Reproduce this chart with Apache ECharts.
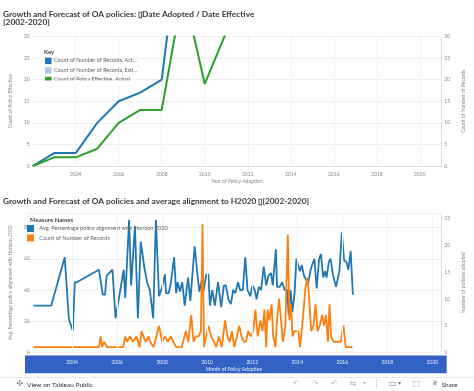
<!DOCTYPE html>
<html><head><meta charset="utf-8">
<script src="https://cdn.jsdelivr.net/npm/echarts@6/dist/echarts.min.js"></script>
<style>html,body{margin:0;padding:0;background:#fff}#c{width:474px;height:391px}</style>
</head><body><div id="c"></div>
<script>
// ---- Top chart data (yearly) ----
const topYears = [2002, 2003, 2004, 2005, 2006, 2007, 2008, 2009, 2010, 2011];
const recordsActual = [0, 3, 3, 10, 15, 17, 20, 60];
const policyEffectiveActual = [0, 2, 2, 4, 10, 13, 13, 41, 19, 31];
const yearTickLabels = [2004, 2006, 2008, 2010, 2012, 2014, 2016, 2018, 2020];
const topYTicks = [0, 5, 10, 15, 20, 25, 30];

// ---- Bottom chart data (monthly, decimal years) ----
const alignX = [2002.28, 2003.07, 2003.67, 2003.86, 2004.03, 2004.12, 2004.21, 2005.19, 2005.36, 2005.46,
  2005.53, 2005.79, 2005.93, 2006.29, 2006.36, 2006.43, 2006.53, 2006.62, 2006.79, 2006.92,
  2007.05, 2007.2, 2007.33, 2007.45, 2007.6, 2007.72, 2007.86, 2008.0, 2008.12, 2008.17,
  2008.29, 2008.39, 2008.53, 2008.62, 2008.69, 2008.79, 2008.89, 2009.0, 2009.15, 2009.25,
  2009.44, 2009.58, 2009.65, 2009.75, 2009.83, 2009.96, 2010.05, 2010.12, 2010.22, 2010.34,
  2010.48, 2010.56, 2010.62, 2010.74, 2010.83, 2010.94, 2011.05, 2011.15, 2011.25, 2011.37,
  2011.46, 2011.58, 2011.69, 2011.79, 2011.91, 2012.01, 2012.11, 2012.19, 2012.29, 2012.39,
  2012.51, 2012.62, 2012.72, 2012.83, 2012.91, 2013.05, 2013.1, 2013.22, 2013.33, 2013.44,
  2013.55, 2013.62, 2013.7, 2013.78, 2013.88, 2013.96, 2014.04, 2014.12, 2014.2, 2014.3,
  2014.37, 2014.48, 2014.58, 2014.68, 2014.76, 2014.86, 2014.97, 2015.05, 2015.15, 2015.23,
  2015.3, 2015.4, 2015.48, 2015.58, 2015.72, 2015.87, 2015.98, 2016.08, 2016.18, 2016.27,
  2016.37, 2016.47];
const alignPct = [30, 30, 61, 21, 14, 45, 45, 53, 37, 37,
  49, 53, 22, 53, 35, 36, 85, 43, 81, 22,
  71, 55, 45, 40, 22, 85, 36, 42, 50, 38,
  38, 45, 61, 38, 45, 39, 45, 30, 48, 33,
  68, 48, 39, 46, 39, 50, 50, 30, 40, 30,
  45, 45, 29, 43, 43, 34, 31, 40, 38, 45,
  40, 40, 61, 40, 36, 43, 40, 34, 42, 40,
  55, 43, 49, 51, 43, 66, 42, 42, 45, 40,
  40, 24, 40, 26, 38, 60, 61, 52, 56, 49,
  49, 44, 52, 57, 60, 41, 60, 63, 48, 52,
  48, 58, 60, 50, 42, 52, 77, 59, 58, 53,
  65, 37];
const recordsX = [2002.28, 2005.19, 2005.27, 2005.33, 2005.42, 2005.55, 2006.27, 2006.36, 2006.44, 2006.57,
  2006.7, 2006.86, 2007.0, 2007.08, 2007.26, 2007.4, 2007.47, 2007.62, 2007.86, 2008.0,
  2008.12, 2008.25, 2008.38, 2008.5, 2008.62, 2008.75, 2008.87, 2009.05, 2009.16, 2009.29,
  2009.39, 2009.49, 2009.62, 2009.72, 2009.79, 2009.86, 2010.05, 2010.18, 2010.3, 2010.4,
  2010.52, 2010.65, 2010.79, 2010.9, 2011.0, 2011.1, 2011.2, 2011.32, 2011.42, 2011.52,
  2011.63, 2011.72, 2011.82, 2011.94, 2012.04, 2012.14, 2012.24, 2012.36, 2012.46, 2012.54,
  2012.62, 2012.68, 2012.76, 2012.86, 2012.93, 2013.03, 2013.1, 2013.19, 2013.28, 2013.36,
  2013.47, 2013.58, 2013.65, 2013.72, 2013.79, 2013.87, 2013.96, 2014.05, 2014.12, 2014.22,
  2014.36, 2014.46, 2014.54, 2014.62, 2014.72, 2014.81, 2014.9, 2015.0, 2015.1, 2015.19,
  2015.27, 2015.36, 2015.43, 2015.5, 2015.61, 2015.72, 2015.83, 2015.93, 2016.05, 2016.15,
  2016.3, 2016.45];
const recordsCount = [1, 1, 3, 1, 2, 1, 1, 3, 2, 3,
  2, 3, 1, 4, 2, 3, 2, 1, 5, 2,
  3, 2, 3, 2, 1, 1, 1, 4, 2, 7,
  2, 3, 3, 4, 24, 1, 5, 3, 2, 1,
  3, 1, 6, 3, 2, 4, 1, 3, 5, 3,
  2, 2, 4, 3, 4, 8, 3, 6, 4, 8,
  1, 8, 6, 9, 3, 1, 6, 10, 6, 2,
  5, 22, 6, 9, 3, 4, 4, 4, 1, 5,
  12, 14, 9, 4, 5, 9, 4, 5, 7, 5,
  7, 2, 9, 3, 2, 2, 2, 2, 5, 1,
  1, 1];
const leftTicksBottom = [0, 20, 40, 60, 80];
const rightTicksBottom = [0, 5, 10, 15, 20, 25];

const pair = (xs, ys) => ys.map((v, i) => [xs[i], v]);

const FONT = 'Lato, "Open Sans", sans-serif';
const LBL = {fontSize: 5, color: '#888', fontFamily: FONT};
const NAME = {fontSize: 5, color: '#888', fontFamily: FONT};
const yearFmt = v => yearTickLabels.includes(v) ? String(v) : '';

const chart = echarts.init(document.getElementById('c'), null, {renderer: 'canvas'});
chart.setOption({
  animation: false,
  backgroundColor: '#fff',
  grid: [
    {left: 20, top: 36.5, width: 430.7, height: 129.5},
    {left: 18.4, top: 213, width: 428.3, height: 139.5}
  ],
  xAxis: [
    {type: 'value', gridIndex: 0, min: 2002, max: 2021, interval: 2,
     axisLine: {show: true, lineStyle: {color: '#ddd', width: 1}}, axisTick: {show: false},
     axisLabel: Object.assign({formatter: yearFmt, margin: 5.5, showMinLabel: false, showMaxLabel: false}, LBL),
     splitLine: {show: true, showMinLine: false, showMaxLine: false, lineStyle: {color: '#f1f1f1', width: 1}},
     name: 'Year of Policy Adoption', nameLocation: 'middle', nameGap: 13, nameTextStyle: NAME},
    {type: 'value', gridIndex: 1, min: 2002, max: 2020.374, interval: 2, z: 10,
     axisLine: {show: false}, axisTick: {show: false},
     axisLabel: {formatter: yearFmt, margin: 7, fontSize: 5, color: '#e6ecf8', fontFamily: FONT, showMinLabel: false, showMaxLabel: false},
     splitLine: {show: true, showMinLine: false, showMaxLine: false, lineStyle: {color: '#f1f1f1', width: 1}},
     name: 'Month of Policy Adoption', nameLocation: 'middle', nameGap: 14,
     nameTextStyle: {fontSize: 5, color: '#e6ecf8', fontFamily: FONT}}
  ],
  yAxis: [
    {type: 'value', gridIndex: 0, position: 'left', min: 0, max: 30, interval: 5,
     axisLine: {show: false}, axisTick: {show: false},
     axisLabel: Object.assign({margin: 3}, LBL),
     splitLine: {show: true, lineStyle: {color: '#eee', width: 1}},
     name: 'Count of Policy Effective', nameLocation: 'middle', nameGap: 11, nameRotate: 90, nameTextStyle: NAME},
    {type: 'value', gridIndex: 0, position: 'right', min: 0, max: 30, interval: 5,
     axisLine: {show: true, lineStyle: {color: '#ddd', width: 1}}, axisTick: {show: false},
     axisLabel: Object.assign({margin: 3}, LBL),
     splitLine: {show: false},
     name: 'Count of Number of Records', nameLocation: 'middle', nameGap: 12, nameRotate: 90, nameTextStyle: NAME},
    {type: 'value', gridIndex: 1, position: 'left', offset: -6.6, min: 0, max: 89.3, interval: 20,
     axisLine: {show: false}, axisTick: {show: false},
     axisLabel: Object.assign({margin: 4, formatter: v => leftTicksBottom.includes(v) ? String(v) : ''}, LBL),
     splitLine: {show: true, lineStyle: {color: '#eee', width: 1}},
     name: 'Avg. Percentage policy alignment with Horizon 2020', nameLocation: 'middle', nameGap: 16, nameRotate: 90, nameTextStyle: NAME},
    {type: 'value', gridIndex: 1, position: 'right', min: 0, max: 26.04, interval: 5,
     axisLine: {show: true, lineStyle: {color: '#ddd', width: 1}}, axisTick: {show: false},
     axisLabel: Object.assign({margin: 3.5, formatter: v => rightTicksBottom.includes(v) ? String(v) : ''}, LBL),
     splitLine: {show: false},
     name: 'Number of policies adopted', nameLocation: 'middle', nameGap: 15, nameRotate: 90, nameTextStyle: NAME}
  ],
  series: [
    {name: 'Count of Number of Records, Actual', type: 'line', xAxisIndex: 0, yAxisIndex: 1,
     data: pair(topYears, recordsActual), showSymbol: false, lineStyle: {color: '#1f77b4', width: 2}, itemStyle: {color: '#1f77b4'}},
    {name: 'Count of Policy Effective, Actual', type: 'line', xAxisIndex: 0, yAxisIndex: 0,
     data: pair(topYears, policyEffectiveActual), showSymbol: false, lineStyle: {color: '#2ca02c', width: 2}, itemStyle: {color: '#2ca02c'}},
    {name: 'Avg. Percentage policy alignment with Horizon 2020', type: 'line', xAxisIndex: 1, yAxisIndex: 2,
     data: pair(alignX, alignPct), showSymbol: false, lineStyle: {color: '#1f77b4', width: 1.8}, itemStyle: {color: '#1f77b4'}},
    {name: 'Count of Number of Records', type: 'line', xAxisIndex: 1, yAxisIndex: 3,
     data: pair(recordsX, recordsCount), showSymbol: false, lineStyle: {color: '#ff7f0e', width: 1.8}, itemStyle: {color: '#ff7f0e'}}
  ],
  graphic: [
    {type: 'text', left: 3, top: 9.5, z: 50, style: {text: 'Growth and Forecast of OA policies: \u25AFDate Adopted / Date Effective\n[2002-2020]',
      font: 'bold 8.3px ' + FONT, fill: '#3a3a3a', lineHeight: 8.8}},
    {type: 'text', left: 3, top: 197, z: 50, style: {text: 'Growth and Forecast of OA policies and average alignment to H2020 \u25AF[2002-2020]',
      font: 'bold 8.3px ' + FONT, fill: '#3a3a3a'}},
    // top legend
    {type: 'text', x: 44, y: 49.5, z: 50, style: {text: 'Key', font: 'bold 6px ' + FONT, fill: '#444'}},
    {type: 'rect', shape: {x: 45, y: 57.6, width: 6.5, height: 6.5}, z: 50, style: {fill: '#1f77b4'}},
    {type: 'text', x: 54, y: 58, z: 50, style: {text: 'Count of Number of Records, Act\u2026', font: '5.4px ' + FONT, fill: '#666'}},
    {type: 'rect', shape: {x: 45, y: 67.2, width: 6.5, height: 6.5}, z: 50, style: {fill: '#aec7e8'}},
    {type: 'text', x: 54, y: 67.6, z: 50, style: {text: 'Count of Number of Records, Esti\u2026', font: '5.4px ' + FONT, fill: '#666'}},
    {type: 'rect', shape: {x: 45, y: 76.8, width: 6.5, height: 6.5}, z: 50, style: {fill: '#2ca02c'}},
    {type: 'text', x: 54, y: 77.2, z: 50, style: {text: 'Count of Policy Effective, Actual', font: '5.4px ' + FONT, fill: '#666'}},
    {type: 'rect', shape: {x: 43, y: 80.6, width: 102, height: 5}, z: 51, style: {fill: '#fff'}},
    // bottom legend
    {type: 'text', x: 30, y: 217.5, z: 50, style: {text: 'Measure Names', font: 'bold 6px ' + FONT, fill: '#444'}},
    {type: 'rect', shape: {x: 27, y: 225, width: 7, height: 7}, z: 50, style: {fill: '#1f77b4'}},
    {type: 'text', x: 39.3, y: 225.5, z: 50, style: {text: 'Avg. Percentage policy alignment with Horizon 2020', font: '5.6px ' + FONT, fill: '#666'}},
    {type: 'rect', shape: {x: 27, y: 234.4, width: 7, height: 7}, z: 50, style: {fill: '#ff7f0e'}},
    {type: 'text', x: 39.3, y: 234.9, z: 50, style: {text: 'Count of Number of Records', font: '5.6px ' + FONT, fill: '#666'}},
    // bottom axis band
    {type: 'rect', shape: {x: 25, y: 355.5, width: 421.7, height: 17.8}, z: 0, silent: true, style: {fill: '#3162c4'}},
    // toolbar
    {type: 'line', shape: {x1: 0, y1: 377.5, x2: 474, y2: 377.5}, z: 50, style: {stroke: '#e8e8e8', lineWidth: 1}},
    {type: 'text', x: 16.5, y: 379.5, z: 50, style: {text: '\u2723', font: '8px "DejaVu Sans"', fill: '#777'}},
    {type: 'text', x: 27, y: 381, z: 50, style: {text: 'View on Tableau Public', font: '6.5px ' + FONT, fill: '#333'}},
    {type: 'text', x: 293, y: 379.5, z: 50, style: {text: '\u21B6', font: '8px "DejaVu Sans"', fill: '#bbb'}},
    {type: 'text', x: 312, y: 379.5, z: 50, style: {text: '\u21B7', font: '8px "DejaVu Sans"', fill: '#bbb'}},
    {type: 'text', x: 331, y: 379.5, z: 50, style: {text: '\u21B6', font: '8px "DejaVu Sans"', fill: '#bbb'}},
    {type: 'text', x: 350, y: 379.5, z: 50, style: {text: '\u21C6', font: '8px "DejaVu Sans"', fill: '#bbb'}},
    {type: 'text', x: 363, y: 380.5, z: 50, style: {text: '\u25BE', font: '6px "DejaVu Sans"', fill: '#bbb'}},
    {type: 'text', x: 375, y: 379.5, z: 50, style: {text: '|', font: '8px "DejaVu Sans"', fill: '#ccc'}},
    {type: 'text', x: 389, y: 379.5, z: 50, style: {text: '\u25AD', font: '8px "DejaVu Sans"', fill: '#777'}},
    {type: 'text', x: 398, y: 380.5, z: 50, style: {text: '\u25BE', font: '6px "DejaVu Sans"', fill: '#777'}},
    {type: 'text', x: 413, y: 379.5, z: 50, style: {text: '\u2B1A', font: '8px "DejaVu Sans"', fill: '#777'}},
    {type: 'text', x: 432, y: 379.5, z: 50, style: {text: '\u2277', font: '7px "DejaVu Sans"', fill: '#777'}},
    {type: 'text', x: 441.5, y: 381, z: 50, style: {text: 'Share', font: '6.5px ' + FONT, fill: '#333'}}
  ]
});
</script></body></html>
